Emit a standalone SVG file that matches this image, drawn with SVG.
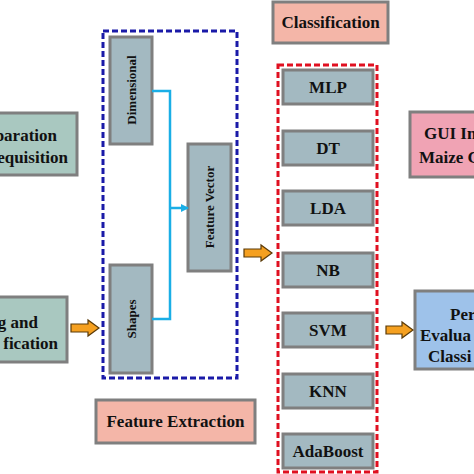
<svg xmlns="http://www.w3.org/2000/svg" width="474" height="474" viewBox="0 0 474 474" font-family="'Liberation Serif', 'Times New Roman', serif" font-weight="bold">
<style>
text{font-family:'Liberation Serif','Times New Roman',serif;font-weight:700;fill:#111;}
.t17{font-size:17px;text-anchor:middle;}
.t13{font-size:13px;text-anchor:middle;}
.node{fill:#a3b9c1;stroke:#7f7f7f;stroke-width:3;}
.green{fill:#a9c8c0;stroke:#7f7f7f;stroke-width:3;}
.salmon{fill:#f4b6a8;stroke:#7f7f7f;stroke-width:3;}
.pink{fill:#f0a3b4;stroke:#7f7f7f;stroke-width:3;}
.blue{fill:#9ec2ea;stroke:#7f7f7f;stroke-width:3;}
.oarrow{fill:#f5a020;stroke:#5a3a08;stroke-width:1.2;}
.cyan{fill:none;stroke:#1aaee6;stroke-width:2.5;}
</style>
<defs>
<marker id="ah" markerWidth="8" markerHeight="8" refX="7" refY="4" orient="auto" markerUnits="userSpaceOnUse">
<path d="M0,0 L8,4 L0,8 Z" fill="#1aaee6"/>
</marker>
</defs>
<rect x="0" y="0" width="474" height="474" fill="#ffffff"/>

<g id="frames">
<rect x="103" y="31" width="134" height="347" fill="none" stroke="#1a1aa8" stroke-width="3" stroke-dasharray="6 3"/>
<rect x="278" y="65" width="99" height="407" fill="none" stroke="#e01020" stroke-width="3" stroke-dasharray="6 3"/>
</g>

<g id="prep">
<rect class="green" x="-10" y="113" width="87" height="62"/>
<text x="57" y="141" style="font-size:17px;text-anchor:end">paration</text>
<text x="68" y="163" style="font-size:17px;text-anchor:end">equisition</text>
</g>
<g id="segm">
<rect class="green" x="-10" y="297" width="77" height="65"/>
<text x="38" y="328" style="font-size:17px;text-anchor:end">g and</text>
<text x="58" y="349" style="font-size:17px;text-anchor:end">fication</text>
</g>

<g id="dimensional">
<rect class="node" x="110" y="37" width="42" height="107"/>
<text class="t13" transform="translate(135.5,90) rotate(-90)">Dimensional</text>
</g>
<g id="shapes">
<rect class="node" x="110" y="265" width="42" height="108"/>
<text class="t13" transform="translate(135.5,319) rotate(-90)">Shapes</text>
</g>
<g id="featvec">
<rect class="node" x="188" y="144" width="43" height="127"/>
<text class="t13" transform="translate(214,207) rotate(-90)">Feature Vector</text>
</g>

<g id="classification">
<rect class="salmon" x="273" y="2" width="115" height="41"/>
<text class="t17" x="330.5" y="28">Classification</text>
</g>
<g id="featext">
<rect class="salmon" x="96" y="400" width="159" height="43"/>
<text class="t17" x="175.5" y="427">Feature Extraction</text>
</g>

<g id="mlp"><rect class="node" x="283" y="70" width="90" height="34"/><text class="t17" x="328" y="93">MLP</text></g>
<g id="dt"><rect class="node" x="283" y="131" width="90" height="34"/><text class="t17" x="328" y="154">DT</text></g>
<g id="lda"><rect class="node" x="283" y="191" width="90" height="34"/><text class="t17" x="328" y="214">LDA</text></g>
<g id="nb"><rect class="node" x="283" y="253" width="90" height="34"/><text class="t17" x="328" y="276">NB</text></g>
<g id="svm"><rect class="node" x="283" y="313" width="90" height="34"/><text class="t17" x="328" y="336">SVM</text></g>
<g id="knn"><rect class="node" x="283" y="374" width="90" height="34"/><text class="t17" x="328" y="397">KNN</text></g>
<g id="adaboost"><rect class="node" x="283" y="434" width="90" height="34"/><text class="t17" x="328" y="457">AdaBoost</text></g>

<g id="gui">
<rect class="pink" x="410" y="112" width="80" height="65"/>
<text x="424" y="139" style="font-size:17px">GUI In</text>
<text x="419" y="163" style="font-size:17px">Maize C</text>
</g>
<g id="perf">
<rect class="blue" x="415" y="291" width="80" height="78"/>
<text x="450" y="320" style="font-size:17px">Per</text>
<text x="420" y="341" style="font-size:17px">Evalua</text>
<text x="428" y="362" style="font-size:17px">Classi</text>
</g>

<g id="connectors">
<path class="cyan" d="M152,91 H170 V319 H152"/>
<path class="cyan" d="M170,208 H188" marker-end="url(#ah)"/>
<path class="oarrow" d="M71,324 H88 V320 L99,328 L88,336 V332 H71 Z"/>
<path class="oarrow" d="M244,249 H261 V245 L272,253 L261,261 V257 H244 Z"/>
<path class="oarrow" d="M386,326 H402 V322 L413,330 L402,338 V334 H386 Z"/>
</g>
</svg>
